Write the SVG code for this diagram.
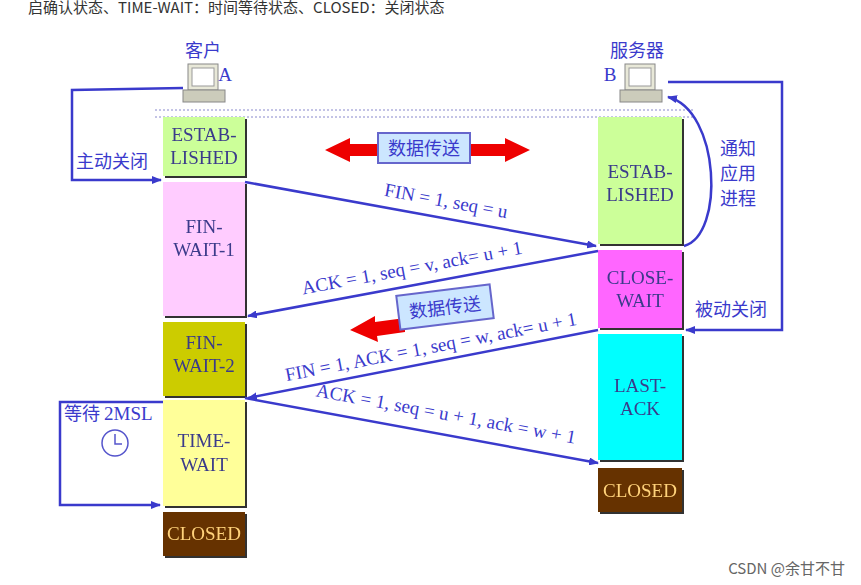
<svg xmlns="http://www.w3.org/2000/svg" width="861" height="585" viewBox="0 0 861 585">
<defs>
<marker id="ar" markerWidth="10" markerHeight="8" refX="9" refY="4" orient="auto" markerUnits="userSpaceOnUse"><path d="M0,0 L10,4 L0,8 Z" fill="#3a3acc"/></marker>
<filter id="sh"><feDropShadow dx="2" dy="2" stdDeviation="0.5" flood-color="#333"/></filter>
</defs>
<style>
.st{font-family:"Liberation Serif",serif;font-size:19px;fill:#3a3a8a;text-anchor:middle}
.cl{font-family:"Liberation Serif",serif;font-size:19px;fill:#ffd27a;text-anchor:middle}
.lb{font-family:"Liberation Serif",serif;font-size:19px;fill:#3a3acc;text-anchor:middle}
.cn{font-family:"Noto Sans CJK SC",sans-serif;font-size:18px;fill:#3a3acc}
.ln{stroke:#3a3acc;stroke-width:2.5;fill:none}
.box{filter:url(#sh)}
</style>
<rect width="861" height="585" fill="#fff"/>
<text x="28" y="13" font-family="Noto Sans CJK SC,sans-serif" font-size="15" fill="#333">启确认状态、TIME-WAIT：时间等待状态、CLOSED：关闭状态</text>
<g id="hostA">
<text x="185" y="57" class="cn">客户</text>
<rect x="188" y="64" width="30" height="26" fill="#e8e8d8" stroke="#888"/><rect x="192" y="68" width="22" height="18" fill="#fff" stroke="#999"/>
<rect x="183" y="90" width="42" height="12" fill="#ccccbb" stroke="#888"/>
<text x="225" y="81" class="lb" text-anchor="start">A</text>
</g>
<g id="hostB">
<text x="610" y="57" class="cn">服务器</text>
<rect x="625" y="64" width="30" height="26" fill="#e8e8d8" stroke="#888"/><rect x="629" y="68" width="22" height="18" fill="#fff" stroke="#999"/>
<rect x="620" y="90" width="42" height="12" fill="#ccccbb" stroke="#888"/>
<text x="610" y="81" class="lb" text-anchor="start">B</text>
</g>
<line x1="155" y1="110" x2="695" y2="110" stroke="#8888cc" stroke-dasharray="2,2"/>
<line x1="155" y1="117" x2="695" y2="117" stroke="#8888cc" stroke-dasharray="2,2"/>
<g id="a-estab" class="box"><rect x="163" y="117" width="82" height="59" fill="#ccff99"/><text x="204" y="141" class="st">ESTAB-</text><text x="204" y="164" class="st">LISHED</text></g>
<g id="a-fw1" class="box"><rect x="163" y="182" width="82" height="134" fill="#ffccff"/><text x="204" y="233" class="st">FIN-</text><text x="204" y="256" class="st">WAIT-1</text></g>
<g id="a-fw2" class="box"><rect x="163" y="322" width="82" height="74" fill="#cccc00"/><text x="204" y="349" class="st">FIN-</text><text x="204" y="372" class="st">WAIT-2</text></g>
<g id="a-tw" class="box"><rect x="163" y="400" width="82" height="106" fill="#ffff99"/><text x="204" y="447" class="st">TIME-</text><text x="204" y="471" class="st">WAIT</text></g>
<g id="a-closed" class="box"><rect x="163" y="512" width="82" height="44" fill="#663300"/><text x="204" y="540" class="cl">CLOSED</text></g>
<g id="b-estab" class="box"><rect x="598" y="117" width="84" height="127" fill="#ccff99"/><text x="640" y="178" class="st">ESTAB-</text><text x="640" y="201" class="st">LISHED</text></g>
<g id="b-cw" class="box"><rect x="598" y="250" width="84" height="78" fill="#ff66ff"/><text x="640" y="284" class="st">CLOSE-</text><text x="640" y="307" class="st">WAIT</text></g>
<g id="b-la" class="box"><rect x="598" y="334" width="84" height="126" fill="#00ffff"/><text x="640" y="392" class="st">LAST-</text><text x="640" y="415" class="st">ACK</text></g>
<g id="b-closed" class="box"><rect x="598" y="468" width="84" height="44" fill="#663300"/><text x="640" y="497" class="cl">CLOSED</text></g>
<g id="connectors">
<path class="ln" d="M183,88 L72,90 L72,180 L161,180" marker-end="url(#ar)"/>
<path class="ln" d="M245,182 L596,246" marker-end="url(#ar)"/>
<path class="ln" d="M598,251 L248,316" marker-end="url(#ar)"/>
<path class="ln" d="M598,330 L248,398" marker-end="url(#ar)"/>
<path class="ln" d="M245,398 L598,463" marker-end="url(#ar)"/>
<path class="ln" d="M684,246 C725,235 720,110 668,97" marker-end="url(#ar)"/>
<path class="ln" d="M668,82 L782,82 L782,330 L686,330" marker-end="url(#ar)"/>
<path class="ln" d="M163,402 L60,402 L60,505 L160,505" marker-end="url(#ar)"/>
</g>
<text class="lb" transform="translate(445,207) rotate(10.3)">FIN = 1, seq = u</text>
<text class="lb" transform="translate(413,274) rotate(-10.5)">ACK = 1, seq = v, ack= u + 1</text>
<text class="lb" transform="translate(432,353) rotate(-11)">FIN = 1, ACK = 1, seq = w, ack= u + 1</text>
<text class="lb" transform="translate(445,420) rotate(10.4)">ACK = 1, seq = u + 1, ack = w + 1</text>
<text x="720" y="155" class="cn">通知</text><text x="720" y="180" class="cn">应用</text><text x="720" y="205" class="cn">进程</text>
<text x="695" y="316" class="cn">被动关闭</text>
<text x="76" y="168" class="cn">主动关闭</text>
<text x="64" y="420" class="cn">等待 <tspan font-family="Liberation Serif,serif" font-size="19">2MSL</tspan></text>
<g id="clock"><circle cx="115" cy="443" r="13" fill="#fff" stroke="#5555cc" stroke-width="1.5"/><path d="M115,434 L115,444 L122,444" stroke="#5555cc" stroke-width="1.5" fill="none"/></g>
<g id="data1">
<path d="M325,150 L350,138 L350,144 L505,144 L505,138 L530,150 L505,162 L505,156 L350,156 L350,162 Z" fill="#ee0000"/>
<rect x="378" y="133" width="92" height="30" fill="#cce6ff" stroke="#6666cc" stroke-width="2"/>
<text x="424" y="155" class="cn" text-anchor="middle">数据传送</text>
</g>
<g id="data2">
<path d="M350,330 L375,316 L375,322 L405,318 L405,332 L377,336 L378,342 Z" fill="#ee0000"/>
<g transform="translate(445,307) rotate(-7)"><rect x="-47" y="-17" width="94" height="34" fill="#cce6ff" stroke="#6666cc" stroke-width="2"/><text x="0" y="7" class="cn" text-anchor="middle">数据传送</text></g>
</g>
<text x="845" y="574" font-family="Noto Sans CJK SC,sans-serif" font-size="15" fill="#666" text-anchor="end">CSDN @余甘不甘</text>
</svg>
